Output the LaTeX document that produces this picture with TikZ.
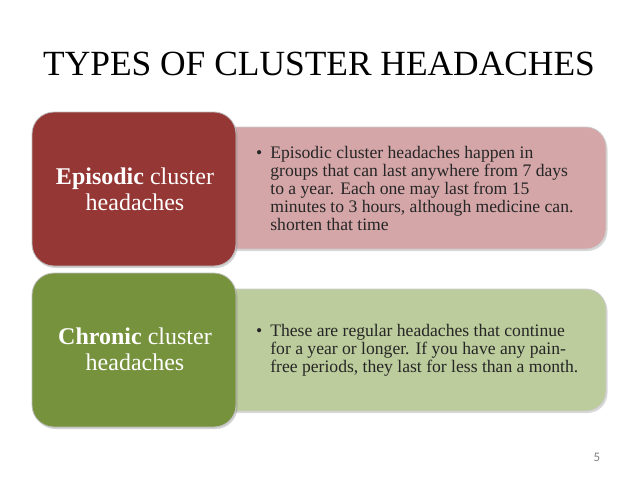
\documentclass[tikz,border=0pt]{standalone}
\usepackage{fontspec}
\setmainfont{Liberation Serif}
\newfontfamily\numfont{Carlito}
\usetikzlibrary{shadows}
\definecolor{darkred}{HTML}{953735}
\definecolor{pinkbox}{HTML}{D4A6A8}
\definecolor{darkgreen}{HTML}{76923C}
\definecolor{lightgreen}{HTML}{BCCC9C}
\tikzset{
  headbox/.style={rounded corners=22pt, minimum width=204pt, minimum height=154pt,
    inner sep=0pt, draw=white!75!black, line width=0.8pt,
    drop shadow={opacity=0.35, shadow xshift=1.5pt, shadow yshift=-2pt}},
  headtext/.style={anchor=base, inner sep=0pt, text=white,
    font=\fontsize{24}{26}\selectfont},
  descbox/.style={rounded corners=20pt, minimum width=406pt, minimum height=122pt,
    inner sep=0pt, draw=white!80!black, line width=0.8pt,
    drop shadow={opacity=0.3, shadow xshift=1.5pt, shadow yshift=-2pt}},
  desctext/.style={anchor=base west, inner sep=0pt, text=black!85,
    font=\fontsize{17.6}{18.2}\selectfont}
}
\begin{document}
\begin{tikzpicture}[x=1pt,y=-1pt]
\useasboundingbox (0,0) rectangle (638,479);
\node[anchor=base, font=\fontsize{35.4}{40}\selectfont, inner sep=0pt] (title) at (319,75) {TYPES OF CLUSTER HEADACHES};
% first row
\node[descbox, fill=pinkbox] (pink) at (403,188) {};
\node[headbox, fill=darkred] (red) at (134,189) {};
\node[headtext] (redtext) at (135,184) {\begin{tabular}[t]{@{}c@{}}\textbf{Episodic} cluster\\headaches\end{tabular}};
\node[desctext] (ptext) at (256,158) {\begin{tabular}[t]{@{}l@{\hspace{8pt}}l@{}}
\textbullet & Episodic cluster headaches happen in\\
 & groups that can last anywhere from 7 days\\
 & to a year. Each one may last from 15\\
 & minutes to 3 hours, although medicine can.\\
 & shorten that time
\end{tabular}};
% second row
\node[descbox, fill=lightgreen] (lgreen) at (403,350) {};
\node[headbox, fill=darkgreen] (green) at (134,350) {};
\node[headtext] (greentext) at (135,344) {\begin{tabular}[t]{@{}c@{}}\textbf{Chronic} cluster\\headaches\end{tabular}};
\node[desctext] (gtext) at (256,336) {\begin{tabular}[t]{@{}l@{\hspace{8pt}}l@{}}
\textbullet & These are regular headaches that continue\\
 & for a year or longer. If you have any pain-\\
 & free periods, they last for less than a month.
\end{tabular}};
\node[font=\numfont\fontsize{13}{15}\selectfont, text=black!50, inner sep=0pt] (num) at (597,457) {5};
\end{tikzpicture}
\end{document}
